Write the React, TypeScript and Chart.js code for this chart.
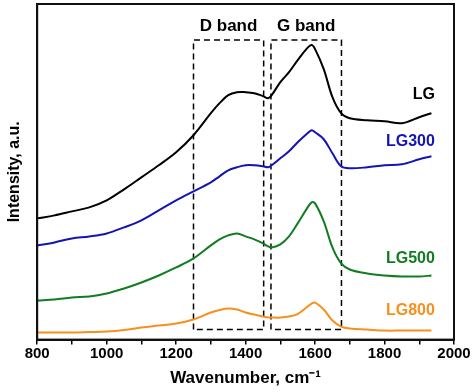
import React, { useEffect, useRef } from "react";
import { Chart, registerables } from "chart.js";

Chart.register(...registerables);

const wavenumbers = [800, 850, 900, 950, 1000, 1050, 1100, 1150, 1200, 1250, 1300, 1325, 1350, 1375, 1400, 1425, 1450, 1465, 1475, 1500, 1525, 1550, 1575, 1590, 1600, 1625, 1650, 1675, 1700, 1750, 1800, 1850, 1900, 1935];

const lg = [121, 124, 128, 132, 139, 150, 162, 174, 187, 204, 226, 236, 244, 247, 247, 246, 243, 241, 244, 257, 267, 279, 290, 294, 290, 270, 242, 226, 221, 219, 218, 216, 222, 226];
const lg300 = [94, 97, 101, 103, 106, 112, 119, 129, 139, 148, 157, 163, 169, 172, 174, 174, 173, 172, 174, 181, 188, 197, 205, 209, 207, 200, 186, 173, 171, 172, 174, 175, 180, 183];
const lg500 = [39, 40, 42, 43, 46, 51, 57, 64, 72, 81, 94, 100, 104, 106, 103, 100, 96, 93, 92, 95, 103, 116, 130, 137, 136, 118, 92, 76, 70, 66, 64, 63, 63, 64];
const lg800 = [7, 7, 7, 7.5, 8, 9.5, 12, 14, 16, 20, 27, 29.5, 31, 30, 27, 25, 23, 22, 22, 22, 23, 25.5, 32, 36, 37, 30, 19, 13, 11, 10, 9, 9, 9, 9];

const seriesNames = ["LG", "LG300", "LG500", "LG800"];
const seriesValues = [lg, lg300, lg500, lg800];
const seriesColors = ["#000000", "#1414b4", "#117d22", "#f7901e"];

// band boxes: [xStart, xEnd]
const bandNames = ["D band", "G band"];
const bandRanges = [
  [1250, 1452],
  [1473, 1676],
];
const bandYRange = [10, 299];

const xTicks = [800, 900, 1000, 1100, 1200, 1300, 1400, 1500, 1600, 1700, 1800, 1900, 2000];

// label anchors (x right edge, y center) in data units
const labelAnchors = [
  [1945, 245],
  [1945, 198],
  [1945, 81],
  [1945, 29],
];
const bandLabelY = 313;

const FONT = "'Liberation Sans', Arial, sans-serif";

export default function App() {
  const ref = useRef<HTMLCanvasElement | null>(null);

  useEffect(() => {
    if (!ref.current) return;
    const datasets: any[] = seriesNames.map((name, i) => ({
      label: name,
      data: wavenumbers.map((w, j) => ({ x: w, y: seriesValues[i][j] })),
      borderColor: seriesColors[i],
      borderWidth: 2,
      pointRadius: 0,
      fill: false,
      tension: 0.35,
    }));
    bandRanges.forEach((r, i) => {
      datasets.push({
        label: bandNames[i],
        data: [
          { x: r[0], y: bandYRange[0] },
          { x: r[0], y: bandYRange[1] },
          { x: r[1], y: bandYRange[1] },
          { x: r[1], y: bandYRange[0] },
          { x: r[0], y: bandYRange[0] },
        ],
        borderColor: "#000",
        borderWidth: 1.5,
        borderDash: [6, 4],
        pointRadius: 0,
        fill: false,
        tension: 0,
      });
    });

    const textPlugin = {
      id: "texts",
      afterDraw(chart: any) {
        const { ctx, chartArea, scales } = chart;
        const xs = scales.x;
        const ys = scales.y;
        ctx.save();
        ctx.strokeStyle = "#111";
        ctx.lineWidth = 2;
        ctx.strokeRect(chartArea.left, chartArea.top, chartArea.right - chartArea.left, chartArea.bottom - chartArea.top);
        ctx.textBaseline = "middle";
        ctx.font = `bold 16px ${FONT}`;
        ctx.textAlign = "right";
        seriesNames.forEach((n, i) => {
          ctx.fillStyle = seriesColors[i];
          ctx.fillText(n, xs.getPixelForValue(labelAnchors[i][0]), ys.getPixelForValue(labelAnchors[i][1]));
        });
        ctx.textAlign = "center";
        ctx.fillStyle = "#000";
        ctx.font = `bold 17px ${FONT}`;
        bandNames.forEach((n, i) => {
          const cx = (bandRanges[i][0] + bandRanges[i][1]) / 2;
          ctx.fillText(n, xs.getPixelForValue(cx), ys.getPixelForValue(bandLabelY));
        });
        ctx.restore();
      },
    };

    const chart = new Chart(ref.current, {
      type: "line",
      data: { datasets },
      options: {
        animation: false,
        responsive: false,
        maintainAspectRatio: false,
        layout: { padding: { left: 5, right: 20, top: 4, bottom: 3 } },
        plugins: { legend: { display: false }, tooltip: { enabled: false } },
        scales: {
          x: {
            type: "linear",
            min: 800,
            max: 2000,
            afterBuildTicks: (scale: any) => {
              scale.ticks = xTicks.map((v) => ({ value: v }));
            },
            ticks: {
              color: "#000",
              font: { family: FONT, size: 15, weight: "bold" },
              padding: 0,
              maxRotation: 0,
              autoSkip: false,
              callback: (v: any) => (Number(v) % 200 === 0 ? String(v) : ""),
            },
            grid: { display: true, drawOnChartArea: false, drawTicks: true, tickLength: 5, color: "#000", lineWidth: 1.5 },
            border: { display: true, color: "#111", width: 2 },
            title: {
              display: true,
              text: "Wavenumber, cm\u207B\u00B9",
              color: "#000",
              font: { family: FONT, size: 17, weight: "bold" },
              padding: { top: 6, bottom: 0 },
            },
          },
          y: {
            type: "linear",
            min: 0,
            max: 335,
            ticks: { display: false },
            grid: { display: false },
            border: { display: true, color: "#111", width: 2 },
            title: {
              display: true,
              text: "Intensity, a.u.",
              color: "#000",
              font: { family: FONT, size: 16, weight: "bold" },
              padding: { top: 0, bottom: 5 },
            },
          },
        },
      },
      plugins: [textPlugin],
    } as any);
    return () => chart.destroy();
  }, []);

  return (
    <div style={{ position: "fixed", left: 0, top: 0, width: 474, height: 392, background: "#fff" }}>
      <canvas ref={ref} width={474} height={392} style={{ width: 474, height: 392 }} />
    </div>
  );
}
